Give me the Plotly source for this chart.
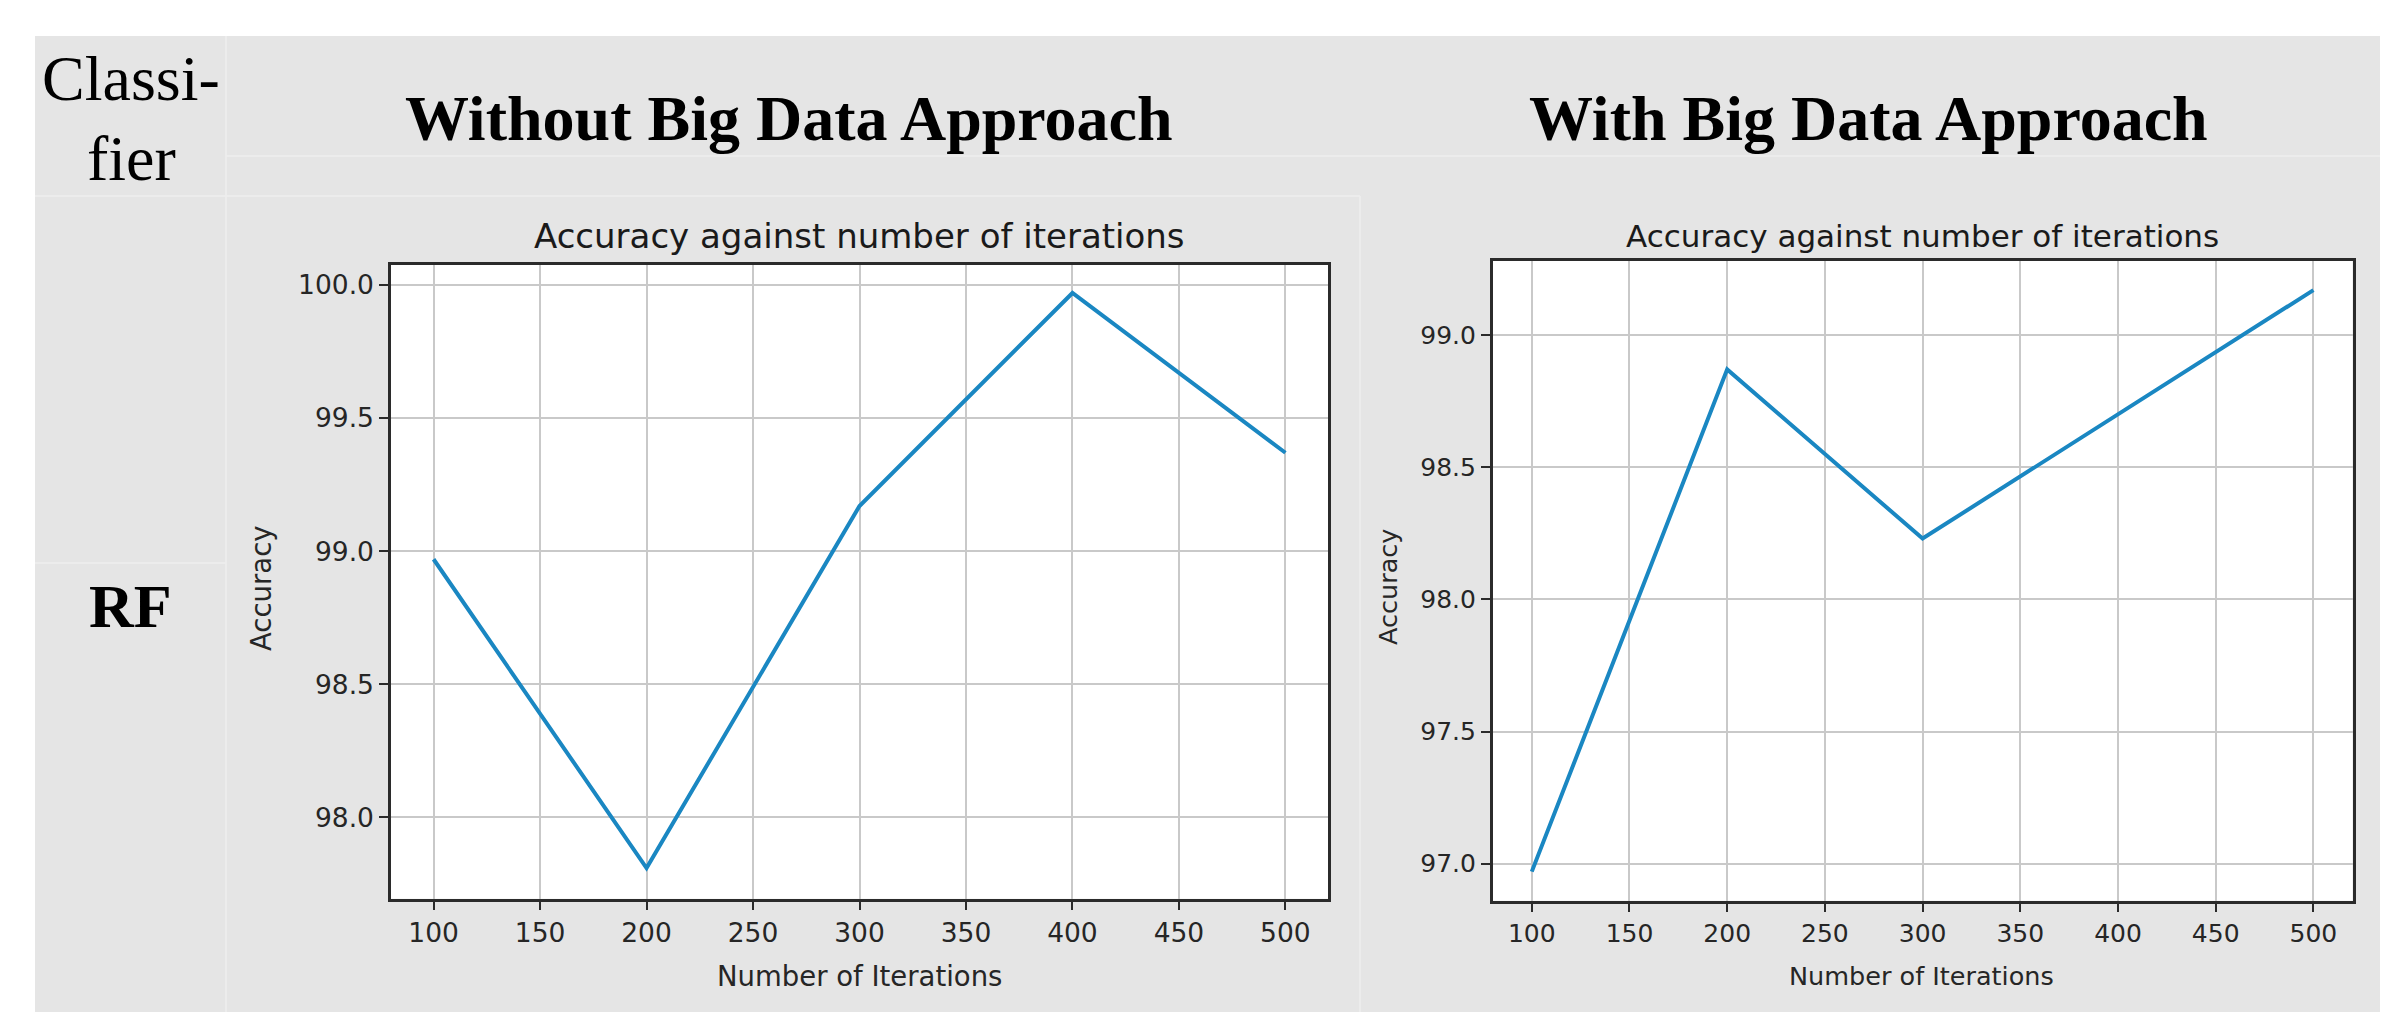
import plotly.graph_objects as go

# --- DATA ---
iterations = [100, 200, 300, 400, 500]
acc_without = [98.97, 97.81, 99.17, 99.97, 99.37]
acc_with = [96.97, 98.87, 98.23, 98.70, 99.17]
x_ticks = [100, 150, 200, 250, 300, 350, 400, 450, 500]
y_ticks_without = [98.0, 98.5, 99.0, 99.5, 100.0]
y_ticks_with = [97.0, 97.5, 98.0, 98.5, 99.0]

W, H = 2395, 1029
LINE_COLOR = '#1a87c2'
CELL_GRAY = '#e5e5e5'
SERIF = 'Liberation Serif'
SANS = 'DejaVu Sans'


def px_x(p):
    return p / W


def px_y(p):
    return 1 - p / H


# posição dos eixos em pixels (esq, dir, topo, base)
BOX_LEFT = (383, 1320, 256.5, 890.7)
BOX_RIGHT = (1484.7, 2344.5, 253, 892.7)

fig = go.Figure()

fig.add_trace(go.Scatter(x=iterations, y=acc_without, mode='lines',
                         line=dict(color=LINE_COLOR, width=4),
                         xaxis='x', yaxis='y', showlegend=False))
fig.add_trace(go.Scatter(x=iterations, y=acc_with, mode='lines',
                         line=dict(color=LINE_COLOR, width=4),
                         xaxis='x2', yaxis='y2', showlegend=False))


def axis_style(size, **kw):
    d = dict(
        showline=True, mirror=True, linecolor='#2b2b2b', linewidth=2.5,
        ticks='outside', ticklen=9, tickwidth=2, tickcolor='#2b2b2b',
        showgrid=True, gridcolor='#c9c9c9', gridwidth=2, zeroline=False,
        tickfont=dict(family=SANS, size=size, color='#262626'),
    )
    d.update(kw)
    return d


fig.update_layout(
    width=W, height=H,
    margin=dict(l=0, r=0, t=0, b=0),
    paper_bgcolor='white',
    plot_bgcolor='white',
    xaxis=axis_style(26.5, domain=[px_x(BOX_LEFT[0]), px_x(BOX_LEFT[1])], range=[80, 520],
                     tickvals=x_ticks, anchor='y'),
    yaxis=axis_style(26.5, domain=[px_y(BOX_LEFT[3]), px_y(BOX_LEFT[2])], range=[97.695, 100.077],
                     tickvals=y_ticks_without, tickformat='.1f', anchor='x'),
    xaxis2=axis_style(25, domain=[px_x(BOX_RIGHT[0]), px_x(BOX_RIGHT[1])], range=[80, 520],
                      tickvals=x_ticks, anchor='y2'),
    yaxis2=axis_style(25, domain=[px_y(BOX_RIGHT[3]), px_y(BOX_RIGHT[2])], range=[96.86, 99.28],
                      tickvals=y_ticks_with, tickformat='.1f', anchor='x2'),
)


def paper_rect(x0, y0, x1, y1, color):
    return dict(type='rect', xref='paper', yref='paper',
                x0=px_x(x0), x1=px_x(x1), y0=px_y(y1), y1=px_y(y0),
                fillcolor=color, line=dict(width=0), layer='below')


# Fundo cinza da tabela
shapes = [paper_rect(27, 28, 2372, 1004, CELL_GRAY)]

# Linhas finas da tabela
sep = dict(color='#eeeeee', width=1.5)
for x0, y0, x1, y1 in [(218, 28, 218, 1004), (218, 148, 2372, 148),
                       (27, 188, 1352, 188), (1352, 188, 1352, 1004),
                       (27, 555, 218, 555)]:
    shapes.append(dict(type='line', xref='paper', yref='paper',
                       x0=px_x(x0), x1=px_x(x1), y0=px_y(y0), y1=px_y(y1),
                       line=sep, layer='below'))

# Área branca dos gráficos, por cima do cinza (plot_bgcolor fica por baixo dele)
for l, r, t, b in [BOX_LEFT, BOX_RIGHT]:
    shapes.append(paper_rect(l, t, r, b, '#ffffff'))
fig.update_layout(shapes=shapes)


def text(s, x, y, size, family, bold=False, angle=0, color='black'):
    if bold:
        s = f'<b>{s}</b>'
    fig.add_annotation(text=s, x=px_x(x), y=px_y(y), xref='paper', yref='paper',
                       showarrow=False, xanchor='center', yanchor='middle',
                       textangle=angle,
                       font=dict(family=family, size=size, color=color))


# Cabeçalhos
text('Classi-', 123, 92 - 0.34 * 64, 64, SERIF)
text('fier', 123.5, 172 - 0.34 * 64, 64, SERIF)
text('Without Big Data Approach', 781, 132 - 0.34 * 64, 64, SERIF, bold=True)
text('With Big Data Approach', 1860, 132 - 0.34 * 64, 64, SERIF, bold=True)
text('RF', 122, 619 - 0.34 * 62, 62, SERIF, bold=True)

# Títulos e rótulos dos gráficos
text('Accuracy against number of iterations', 851.5, 240 - 0.35 * 34, 34, SANS, color='#1a1a1a')
text('Accuracy against number of iterations', 1914.6, 239 - 0.35 * 31, 31, SANS, color='#1a1a1a')
text('Number of Iterations', 851, 968, 27.5, SANS, color='#262626')
text('Number of Iterations', 1913, 968, 25.5, SANS, color='#262626')
text('Accuracy', 253, 580, 27.5, SANS, angle=-90, color='#262626')
text('Accuracy', 1380, 579, 25.5, SANS, angle=-90, color='#262626')

fig.write_html("out.html")
